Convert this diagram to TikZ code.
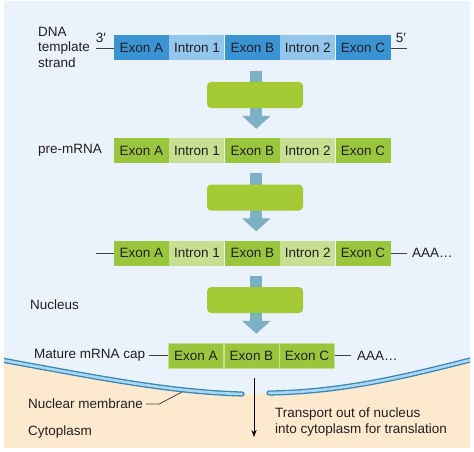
\documentclass[tikz,border=0pt]{standalone}
\usepackage{fontspec}
\setmainfont{Liberation Sans}
\usetikzlibrary{positioning,arrows.meta}
\definecolor{nucbg}{HTML}{EAF3FB}
\definecolor{cytobg}{HTML}{FDE9CE}
\definecolor{dnaexon}{HTML}{3A94D4}
\definecolor{dnaintron}{HTML}{92C6EC}
\definecolor{rnaexon}{HTML}{9AC63E}
\definecolor{rnaintron}{HTML}{C6DF90}
\definecolor{stepgreen}{HTML}{A4CB35}
\definecolor{flowblue}{HTML}{7EB0C3}
\definecolor{membdark}{HTML}{3686B6}
\definecolor{memblight}{HTML}{AAD8F2}
\definecolor{ink}{HTML}{231F20}

\begin{document}
\begin{tikzpicture}[x=1pt,y=-1pt,node distance=0pt,>=stealth,
    every node/.style={font=\fontsize{13.5}{15.5}\selectfont,text=ink}]
    \tikzstyle{seg}=[rectangle, minimum width=55, minimum height=25, inner sep=0pt]
    \tikzstyle{exonD}=[seg, fill=dnaexon]
    \tikzstyle{intronD}=[seg, fill=dnaintron]
    \tikzstyle{exonR}=[seg, fill=rnaexon]
    \tikzstyle{intronR}=[seg, fill=rnaintron]
    \tikzstyle{stepbox}=[rectangle, rounded corners=4pt, fill=stepgreen, minimum width=96, minimum height=26]
    \tikzstyle{flow}=[line width=12pt, draw=flowblue, -{Triangle[width=28pt,length=13pt]}, shorten <=10pt, shorten >=9pt]
    \tikzstyle{strand}=[line width=0.8pt, draw=ink!85]
    \tikzstyle{side}=[anchor=west, align=left, inner sep=0pt]
    \tikzstyle{membrane}=[draw=membdark, line width=1.3pt, double=memblight, double distance=2.6pt, line cap=round]
    \useasboundingbox (0,0) rectangle (474,452);
    \fill[white] (0,0) rectangle (474,452);
    \fill[nucbg] (4,1) rectangle (470,447);
    % cytoplasm and nuclear membrane
    \begin{scope}
      \clip (4,1) rectangle (470,447);
      \fill[cytobg] (0,360) .. controls (100,378) and (170,392) .. (242,394) -- (269,393)
        .. controls (340,392) and (400,378) .. (474,359) -- (474,452) -- (0,452) -- cycle;
      \draw[membrane] (-4,359) .. controls (100,378) and (170,392) .. (242,394);
      \draw[membrane] (269,393) .. controls (340,392) and (400,378) .. (478,358);
    \end{scope}
    % DNA template strand
    \node[exonD] (d1) at (141.5,48) {Exon A};
    \node[intronD, right=of d1] (d2) {Intron 1};
    \node[exonD, right=of d2] (d3) {Exon B};
    \node[intronD, right=of d3] (d4) {Intron 2};
    \node[exonD, right=of d4] (d5) {Exon C};
    \node[side] (dnalab) at (38,47) {DNA\\template\\strand};
    \coordinate (d0) at (96,48);
    \coordinate (d6) at (407,48);
    \draw[strand] (d0) -- (d1.west);
    \draw[strand] (d5.east) -- (d6);
    \node (three) at (101,38) {3′};
    \node (five) at (401,38) {5′};
    % pre-mRNA
    \node[exonR] (p1) at (141.5,150.5) {Exon A};
    \node[intronR, right=of p1] (p2) {Intron 1};
    \node[exonR, right=of p2] (p3) {Exon B};
    \node[intronR, right=of p3] (p4) {Intron 2};
    \node[exonR, right=of p4] (p5) {Exon C};
    \node[side] (prelab) at (38,150) {pre-mRNA};
    % capped and tailed pre-mRNA
    \node[exonR] (c1) at (141.5,253) {Exon A};
    \node[intronR, right=of c1] (c2) {Intron 1};
    \node[exonR, right=of c2] (c3) {Exon B};
    \node[intronR, right=of c3] (c4) {Intron 2};
    \node[exonR, right=of c4] (c5) {Exon C};
    \coordinate (c0) at (96,253);
    \node[side] (ctail) at (412,253) {AAA…};
    \draw[strand] (c0) -- (c1.west);
    \draw[strand] (c5.east) -- ([xshift=-5pt]ctail.west);
    % mature mRNA
    \node[exonR, draw=rnaintron, line width=0.5pt] (m1) at (196,355.5) {Exon A};
    \node[exonR, draw=rnaintron, line width=0.5pt, right=of m1] (m2) {Exon B};
    \node[exonR, draw=rnaintron, line width=0.5pt, right=of m2] (m3) {Exon C};
    \node[side] (cap) at (34,355.5) {Mature mRNA cap};
    \node[side] (mtail) at (357,355.5) {AAA…};
    \draw[strand] ([xshift=4pt]cap.east) -- (m1.west);
    \draw[strand] (m3.east) -- ([xshift=-6pt]mtail.west);
    % processing steps
    \draw[flow] ([xshift=4pt]d3.south) -- ([xshift=4pt]p3.north);
    \draw[flow] ([xshift=4pt]p3.south) -- ([xshift=4pt]c3.north);
    \draw[flow] ([xshift=4pt]c3.south) -- ([xshift=4pt]m3.north -| c3.south);
    \node[stepbox] (step1) at (255,95) {};
    \node[stepbox] (step2) at (255,197.5) {};
    \node[stepbox] (step3) at (255,300) {};
    \node[side] (nuc) at (30,305) {Nucleus};
    % export
    \node[side] (memlab) at (28,404) {Nuclear membrane};
    \coordinate (memhit) at (182,392);
    \draw[strand] ([xshift=3pt]memlab.east) -- ++(13,0) -- (memhit);
    \node[side] (cyto) at (28,432) {Cytoplasm};
    \coordinate (exit) at (254,437);
    \draw[line width=0.8pt, -{Stealth[length=7pt,width=5pt]}, shorten <=10pt] ([xshift=2.5pt]m2.south) -- (exit);
    \node[side] (transport) at (275,422) {Transport out of nucleus\\into cytoplasm for translation};
\end{tikzpicture}
\end{document}
